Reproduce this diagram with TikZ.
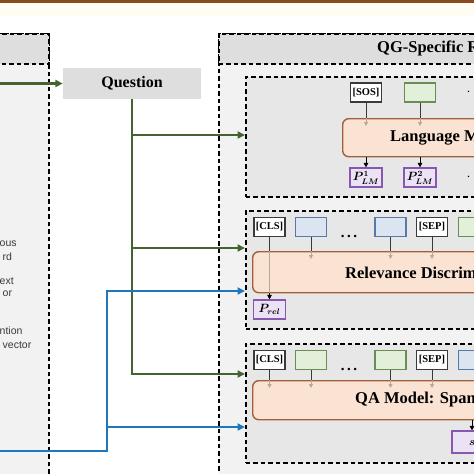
\documentclass[tikz,border=0pt]{standalone}
\usepackage{amsmath}
\usepackage{fontspec}
\setmainfont{Liberation Serif}
\setsansfont{Liberation Sans}
\usetikzlibrary{arrows.meta}
\definecolor{grn}{HTML}{436430}
\definecolor{blu}{HTML}{1E78BE}
\definecolor{hdr}{HTML}{DEDEDE}
\definecolor{pnl}{HTML}{F2F2F2}
\definecolor{spnl}{HTML}{E7E7E7}
\definecolor{tokdraw}{HTML}{3A3A3A}
\definecolor{gtokfill}{HTML}{E2EFD9}
\definecolor{gtokdraw}{HTML}{6A8C55}
\definecolor{btokfill}{HTML}{DBE4F1}
\definecolor{btokdraw}{HTML}{5878A8}
\definecolor{pfill}{HTML}{ECE2F6}
\definecolor{pdraw}{HTML}{8658B0}
\definecolor{mfill}{HTML}{FBE3D3}
\definecolor{mdraw}{HTML}{A0603A}
\definecolor{tokin}{HTML}{B9A79B}
\definecolor{brownbar}{HTML}{8B4A1C}
\definecolor{cream}{HTML}{FFFDF2}
\definecolor{sidegray}{HTML}{3A3A3A}
\begin{document}
\begin{tikzpicture}[x=1pt,y=-1pt,
  panelline/.style={dash pattern=on 4.5pt off 3pt, line width=1.6pt, draw=black},
  panel/.style={panelline, fill=pnl, inner sep=0pt},
  header/.style={panelline, fill=hdr, inner sep=0pt},
  subpanel/.style={panelline, fill=spnl, inner sep=0pt},
  token/.style={draw=tokdraw, line width=1.1pt, fill=white, minimum width=31pt, minimum height=19pt, inner sep=0pt, font=\bfseries\fontsize{10.5}{10.5}\selectfont},
  gtok/.style={token, fill=gtokfill, draw=gtokdraw},
  btok/.style={token, fill=btokfill, draw=btokdraw},
  ptok/.style={token, fill=pfill, draw=pdraw, minimum width=32pt, font=\fontsize{11.5}{11.5}\selectfont},
  model/.style={draw=mdraw, fill=mfill, line width=1.4pt, rounded corners=6pt, inner sep=0pt},
  mlabel/.style={font=\bfseries\fontsize{16.5}{16.5}\selectfont, anchor=west, inner sep=0pt},
  dotsnode/.style={font=\bfseries\fontsize{15}{15}\selectfont, inner sep=0pt, anchor=base},
  sidetxt/.style={font=\sffamily\fontsize{10.5}{10.5}\selectfont, text=sidegray, anchor=west, inner sep=0pt},
  qbox/.style={fill=hdr, minimum width=138pt, minimum height=31pt, inner sep=0pt, font=\bfseries\fontsize{16}{16}\selectfont},
  garrow/.style={draw=grn, line width=2.2pt, line join=miter, -{Triangle[length=7.5pt,width=7pt]}},
  barrow/.style={draw=blu, line width=2.2pt, line join=miter, -{Triangle[length=7.5pt,width=7pt]}},
  tokline/.style={draw=tokdraw, line width=0.9pt},
  tokinline/.style={draw=tokin, line width=0.9pt},
  tokarrow/.style={draw=tokin, line width=0.9pt, -{Triangle[length=4pt,width=4pt]}},
  outarr/.style={draw=black, line width=0.9pt, -{Triangle[length=4.5pt,width=4.5pt]}}
]
\useasboundingbox (0,0) rectangle (474,474);
\clip (0,0) rectangle (474,474);
\fill[white] (0,0) rectangle (474,474);
\fill[cream] (0,3.2) rectangle (474,16);
\fill[brownbar] (0,0) rectangle (474,3.2);

% left panel
\node[panel, anchor=north east, minimum width=100pt, minimum height=460pt] (lpn) at (50,33) {};
\node[header, anchor=north east, minimum width=100pt, minimum height=30pt] (lph) at (50,33) {};
% right panel
\node[panel, anchor=north west, minimum width=300pt, minimum height=460pt] (rpn) at (218,33) {};
\node[header, anchor=north west, minimum width=300pt, minimum height=30pt] (rph) at (218,33) {};
\node[mlabel] (rpt) at (377,48.5) {QG-Specific R};

% side texts
\node[sidetxt] (s1) at (-0.5,244) {ous};
\node[sidetxt] (s2) at (2.5,257) {rd};
\node[sidetxt] (s3) at (-0.5,281) {ext};
\node[sidetxt] (s4) at (2.5,294) {or};
\node[sidetxt] (s5) at (-0.5,331) {ntion};
\node[sidetxt] (s6) at (2.5,345) {vector};

% sub panels
\node[subpanel, anchor=north west, minimum width=260pt, minimum height=120pt] (lmp) at (245,76) {};
\node[subpanel, anchor=north west, minimum width=260pt, minimum height=118pt] (rdp) at (245,210) {};
\node[subpanel, anchor=north west, minimum width=260pt, minimum height=119pt] (qap) at (245,343) {};

% Question
\node[qbox] (q) at (132,83.5) {Question};
\coordinate (gin) at (0,83.5);
\draw[garrow] (gin) -- (q.west);

% green trunk
\coordinate (g1) at (132,135);
\coordinate (g2) at (132,248);
\coordinate (g3) at (132,374);
\draw[garrow] (q.south) |- (qap.west |- g3);
\draw[garrow] (g1) -- (g1 -| lmp.west);
\draw[garrow] (g2) -- (g2 -| rdp.west);

% blue
\coordinate (bin) at (0,451);
\coordinate (bturn) at (107,451);
\coordinate (b1) at (107,291);
\coordinate (b2) at (107,427);
\draw[barrow] (bin) -- (bturn) -- (b1) -- (b1 -| rdp.west);
\draw[barrow] (b2) -- (b2 -| qap.west);

% ---------- Language model panel
\node[token] (sos) at (366,92.5) {[SOS]};
\node[gtok] (lg1) at (420,92.5) {};
\node[font=\bfseries\fontsize{14}{14}\selectfont, anchor=west, inner sep=0pt] (ld1) at (466.5,92) {$\cdots$};
\node[model, anchor=north west, minimum width=200pt, minimum height=38pt] (lm) at (342,118) {};
\node[mlabel] (lmt) at (390,137.5) {Language M};
\node[ptok] (plm1) at (366,177.5) {$\boldsymbol{P^{1}_{LM}}$};
\node[ptok] (plm2) at (420,177.5) {$\boldsymbol{P^{2}_{LM}}$};
\node[font=\bfseries\fontsize{14}{14}\selectfont, anchor=west, inner sep=0pt] (ld2) at (466.5,177) {$\cdots$};
\foreach \t in {sos,lg1}{
  \draw[tokline] (\t.south) -- (\t.south |- lm.north);
  \draw[tokarrow] (\t.south |- lm.north) -- ++(0,8);
}
\draw[outarr] (plm1.north |- lm.south) -- (plm1.north);
\draw[outarr] (plm2.north |- lm.south) -- (plm2.north);

% ---------- Relevance panel
\node[token] (rcls) at (269.5,227) {[CLS]};
\node[btok] (rb1) at (311,227) {};
\node[dotsnode] (rdots) at (349,237) {.\hspace{2.5pt}.\hspace{2.5pt}.};
\node[btok] (rb2) at (390.5,227) {};
\node[token] (rsep) at (432,227) {[SEP]};
\node[gtok] (rg1) at (474,227) {};
\node[model, anchor=north west, minimum width=260pt, minimum height=41pt] (rd) at (252,251) {};
\node[mlabel] (rdt) at (345,273) {Relevance Discrim};
\node[ptok] (prel) at (269.5,309.5) {$\boldsymbol{P_{rel}}$};
\draw[tokline] (rcls.south) -- (rcls.south |- rd.north);
\draw[tokinline] (rcls.south |- rd.north) -- (rcls.south |- rd.south);
\draw[outarr] (rcls.south |- rd.south) -- (prel.north);
\foreach \t in {rb1,rb2,rsep}{
  \draw[tokline] (\t.south) -- (\t.south |- rd.north);
  \draw[tokarrow] (\t.south |- rd.north) -- ++(0,8);
}

% ---------- QA panel
\node[token] (qcls) at (269.5,360) {[CLS]};
\node[gtok] (qg1) at (311,360) {};
\node[dotsnode] (qdots) at (349,370) {.\hspace{2.5pt}.\hspace{2.5pt}.};
\node[gtok] (qg2) at (390.5,360) {};
\node[token] (qsep) at (432,360) {[SEP]};
\node[btok] (qb1) at (474,360) {};
\node[model, anchor=north west, minimum width=260pt, minimum height=39pt] (qa) at (252,380) {};
\node[mlabel] (qat) at (355,400) {QA Model: Span};
\node[ptok, minimum width=40pt, minimum height=22pt] (qout) at (472,442) {};
\node[font=\fontsize{11}{11}\selectfont, anchor=west, inner sep=0pt] (qoutt) at (469,443) {$\boldsymbol{s}$};
\foreach \t in {qcls,qg1,qg2,qsep}{
  \draw[tokline] (\t.south) -- (\t.south |- qa.north);
  \draw[tokarrow] (\t.south |- qa.north) -- ++(0,8);
}
\draw[outarr] (qout.north |- qa.south) -- (qout.north);
\end{tikzpicture}
\end{document}
